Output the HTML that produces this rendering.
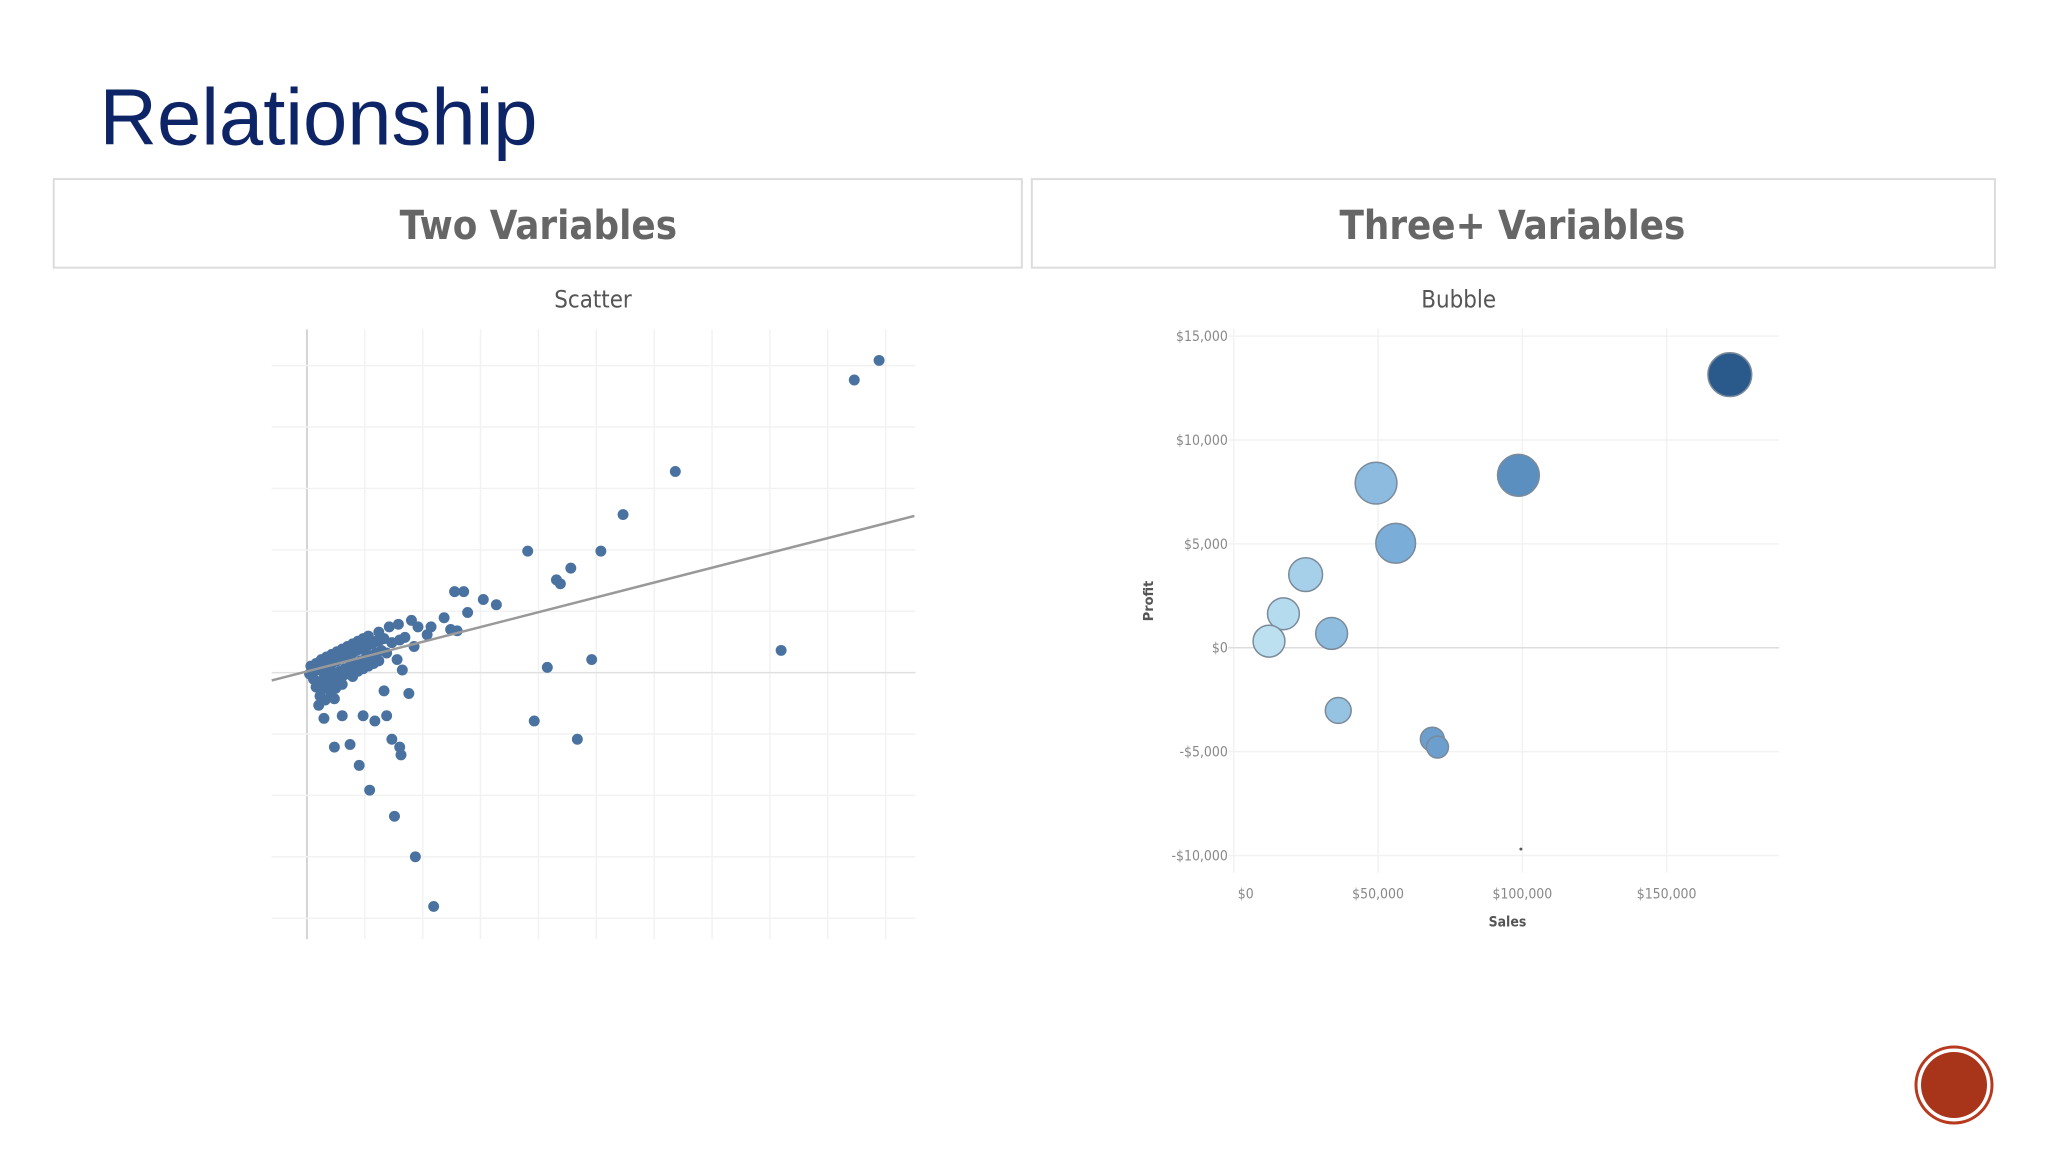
<!DOCTYPE html>
<html><head><meta charset="utf-8"><style>
html,body{margin:0;padding:0;background:#fff;width:2048px;height:1152px;overflow:hidden;font-family:"Liberation Sans",sans-serif}
</style></head><body>
<svg id="page" width="2048" height="1152" viewBox="0 0 2048 1152" xmlns="http://www.w3.org/2000/svg">
<g transform="scale(0.995)">
<text x="100" y="145" font-size="80" fill="#0d2466" font-family="Liberation Sans, sans-serif">Relationship</text>
<rect x="54" y="180" width="973" height="89" fill="#fff" stroke="#dcdcdc" stroke-width="2"/>
<text x="541" y="240" text-anchor="middle" font-size="40" font-weight="bold" fill="#666" font-family="DejaVu Sans Condensed, DejaVu Sans, sans-serif">Two Variables</text>
<rect x="1037" y="180" width="968" height="89" fill="#fff" stroke="#dcdcdc" stroke-width="2"/>
<text x="1520" y="240" text-anchor="middle" font-size="40" font-weight="bold" fill="#666" font-family="DejaVu Sans Condensed, DejaVu Sans, sans-serif">Three+ Variables</text>
<text x="596" y="309" text-anchor="middle" font-size="24" fill="#555" font-family="DejaVu Sans Condensed, DejaVu Sans, sans-serif">Scatter</text>
<text x="1466" y="309" text-anchor="middle" font-size="24" fill="#555" font-family="DejaVu Sans Condensed, DejaVu Sans, sans-serif">Bubble</text>
<g id="scatter"></g>
<g id="bubble"></g>
</g>
<g>
<circle cx="1954" cy="1085" r="38" fill="#fff" stroke="#b83a1e" stroke-width="3"/>
<circle cx="1954" cy="1085" r="33" fill="#a8341a"/>
</g>
</svg>
<script>
const scatterSales=[438,419,282,242,169,225,202,191,194,113,120,135,145,123,105,110,115,80,85,95,70,92,82,363,218,184,174,207,78,59,73,69,61,52,65,71,72,33,21,40,48,67,83,97,43,27,13,21,9,15,
2,5,8,11,14,17,20,23,26,29,32,35,38,41,44,47,50,53,56,59,5,9,13,17,21,25,29,33,37,41,45,49,53,57,7,11,15,19,23,27,31,35,39,43,47,51,55,10,14,18,22,27,3,7,11,15,19,23,27,31,35,39,43,47,55,63,65,61,71,75];
const scatterProfit=[239,224,154,121,93,93,80,71,68,62,62,56,52,46,42,33,32,40,35,35,37,29,20,17,10,4,-37,-51,-16,-14,2,10,-33,-37,-51,-57,-63,-55,-57,-71,-90,-110,-141,-179,-33,-33,-35,-20,-25,-10,
-1,1,2,3,5,6,8,9,11,12,14,15,17,18,19,21,22,24,25,26,-5,-7,-4,-2,0,1,3,5,7,9,11,13,15,17,-11,-13,-9,-7,-5,-3,-1,-3,1,3,5,7,9,-18,-21,-15,-12,-9,5,7,10,12,14,16,18,20,22,24,26,28,31,35,23,15,25,27];
const trendSlope=0.256, trendIntercept=0.9;
const bubbleSales=[171900,98640,49300,56100,24900,17200,12200,33900,36200,68800,70600,99500];
const bubbleProfit=[13145,8300,7925,5030,3520,1635,315,690,-3020,-4400,-4780,-9690];
const bubbleSize=[22,21,21,20,17,16,16,16,13,12,11,1.5];
const bubbleColor=["#2a5a8c","#5b8fc0","#8dbbe0","#7aaed8","#a6cfea","#b5dbef","#bde0f0","#8fbde0","#97c3e3","#6c9fce","#6c9fce","#555"];
const bubbleXTicks=[0,50000,100000,150000];
const bubbleXTickLabels=["$0","$50,000","$100,000","$150,000"];
const bubbleYTicks=[15000,10000,5000,0,-5000,-10000];
const bubbleYTickLabels=["$15,000","$10,000","$5,000","$0","-$5,000","-$10,000"];
const NS="http://www.w3.org/2000/svg";
function mk(p,t,a){const e=document.createElementNS(NS,t);for(const k in a)e.setAttribute(k,a[k]);p.appendChild(e);return e;}
const sg=document.getElementById('scatter');
const K=1.3128;
const sx=v=>308.5+v*K, sy=v=>676-v*K;
for(let i=-3;i<=10;i++){const v=i*44.3;if(sx(v)<273||sx(v)>920)continue;
 const l=mk(sg,'line',{x1:sx(v),x2:sx(v),y1:331,y2:944,stroke:i==0?'#d4d4d4':'#f2f2f2','stroke-width':i==0?2:1.5});
 
 }
for(let i=-4;i<=5;i++){const v=i*47;if(sy(v)<335||sy(v)>940)continue;
 const l=mk(sg,'line',{x1:273,x2:920,y1:sy(v),y2:sy(v),stroke:i==0?'#e0e0e0':'#f2f2f2','stroke-width':1.5});
 
 }
for(let i=0;i<scatterSales.length;i++){
 const c=mk(sg,'circle',{cx:sx(scatterSales[i]),cy:sy(scatterProfit[i]),r:5.5,fill:'#4a72a0'});
 
 }
const tl=mk(sg,'line',{x1:sx(-27),y1:sy(trendSlope*-27+trendIntercept),x2:sx(465),y2:sy(trendSlope*465+trendIntercept),stroke:'#999','stroke-width':2.5});


const bg=document.getElementById('bubble');
const bx=v=>1240+v/50000*145, by=v=>651-v/5000*104.4;
for(const t of bubbleXTicks){
 const l=mk(bg,'line',{x1:bx(t),x2:bx(t),y1:330,y2:877,stroke:'#f2f2f2','stroke-width':1.5});
 
 }
bubbleXTicks.forEach((t,i)=>{
 const tx=mk(bg,'text',{x:bx(t)+(i==0?12:0),y:903,'text-anchor':'middle','font-size':14,fill:'#888','font-family':'DejaVu Sans Condensed, sans-serif'});
 tx.textContent=bubbleXTickLabels[i];
 
 });
bubbleYTicks.forEach((t,i)=>{
 const l=mk(bg,'line',{x1:1234,x2:1788,y1:by(t),y2:by(t),stroke:t==0?'#ddd':'#f2f2f2','stroke-width':1.5});
 
 
 const tx=mk(bg,'text',{x:1234,y:by(t)+5,'text-anchor':'end','font-size':14,fill:'#888','font-family':'DejaVu Sans Condensed, sans-serif'});
 tx.textContent=bubbleYTickLabels[i];
 
 });
const xt=mk(bg,'text',{x:1515,y:931,'text-anchor':'middle','font-size':14,'font-weight':'bold',fill:'#555','font-family':'DejaVu Sans Condensed, sans-serif'});
xt.textContent='Sales';


const yt=mk(bg,'text',{x:0,y:0,transform:'translate(1159,604) rotate(-90)','text-anchor':'middle','font-size':13,'font-weight':'bold',fill:'#555','font-family':'DejaVu Sans, sans-serif'});
yt.textContent='Profit';


for(let i=0;i<bubbleSales.length;i++){
 const c=mk(bg,'circle',{cx:bx(bubbleSales[i]),cy:by(bubbleProfit[i]),r:bubbleSize[i],fill:bubbleColor[i],stroke:'#7a8a9a','stroke-width':bubbleSize[i]>3?1.5:0});
 
 }
</script>
</body></html>
